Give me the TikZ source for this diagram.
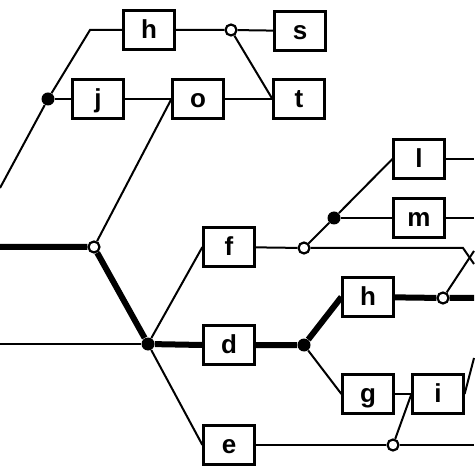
\documentclass[tikz,border=0pt]{standalone}
\usepackage{fontspec}
\setmainfont{Liberation Sans}
\begin{document}
\begin{tikzpicture}[x=0.5pt,y=-0.5pt,
    blk/.style={draw,line width=1.1pt,fill=white,minimum width=25.5pt,minimum height=19.5pt,
      inner sep=0pt,text height=8.5pt,text depth=0pt,font=\fontsize{13}{13}\selectfont\bfseries},
    fdot/.style={circle,fill=black,inner sep=0pt,minimum size=6.5pt},
    odot/.style={circle,draw,fill=white,line width=1.1pt,inner sep=0pt,minimum size=5.5pt},
    wire/.style={line width=1pt},
    main/.style={line width=3pt}]

            \useasboundingbox (0,0) rectangle (474,474);

            % blocks
            \node[blk] (hA) at (149,30) {h};
            \node[blk] (j) at (98,99) {j};
            \node[blk] (o) at (198,99) {o};
            \node[blk] (s) at (300,31) {s};
            \node[blk] (t) at (299,99) {t};
            \node[blk] (l) at (419,159) {l};
            \node[blk] (m) at (419,218) {m};
            \node[blk] (f) at (229,247) {f};
            \node[blk] (d) at (229,345) {d};
            \node[blk] (e) at (229,445) {e};
            \node[blk] (hB) at (368,297) {h};
            \node[blk] (g) at (368,394) {g};
            \node[blk] (i) at (438,394) {i};

            % junctions
            \node[fdot] (p1) at (48,99) {};
            \node[fdot] (p2) at (148,344) {};
            \node[fdot] (p3) at (304,345) {};
            \node[fdot] (p4) at (334,218) {};
            \node[odot] (q1) at (231,30) {};
            \node[odot] (q2) at (94,247) {};
            \node[odot] (q3) at (443,298) {};
            \node[odot] (q4) at (304,248) {};
            \node[odot] (q5) at (393,445) {};

            % free ends
            \coordinate (lA) at (0,188);
            \coordinate (lB) at (0,247);
            \coordinate (lC) at (0,344);
            \coordinate (kA) at (90,30);
            \coordinate (kB) at (463,248);
            \coordinate (rA) at (474,298);
            \coordinate (rB) at (474,264);
            \coordinate (rC) at (474,159);
            \coordinate (rD) at (474,218);
            \coordinate (rE) at (474,251);
            \coordinate (rF) at (474,445);
            \coordinate (rG) at (474,358);

            % upper part
            \draw[wire] (lA) -- (p1) -- (kA) -- (hA);
            \draw[wire] (p1) -- (j);
            \draw[wire] (j) -- (o);
            \draw[wire] (o) -- (t);
            \draw[wire] (hA) -- (q1) -- (s);
            \draw[wire] (q1) -- (t.west);
            \draw[wire] (o.west) -- (q2);

            % heavy path
            \draw[main] (lB) -- (q2) -- (p2) -- (d.west);
            \draw[main] (d) -- (p3) -- (hB.west);
            \draw[main] (hB) -- (q3) -- (rA);

            % lower part
            \draw[wire] (lC) -- (p2);
            \draw[wire] (p2) -- (f.west);
            \draw[wire] (p2) -- (e.west);
            \draw[wire] (f) -- (q4) -- (kB) -- (rB);
            \draw[wire] (q4) -- (p4) -- (l.west);
            \draw[wire] (p4) -- (m);
            \draw[wire] (l) -- (rC);
            \draw[wire] (m) -- (rD);
            \draw[wire] (q3) -- (rE);
            \draw[wire] (p3) -- (g.west);
            \draw[wire] (g) -- (i);
            \draw[wire] (e) -- (q5) -- (rF);
            \draw[wire] (q5) -- (i.west);
            \draw[wire] (i.east) -- (rG);
        \end{tikzpicture}
\end{document}
